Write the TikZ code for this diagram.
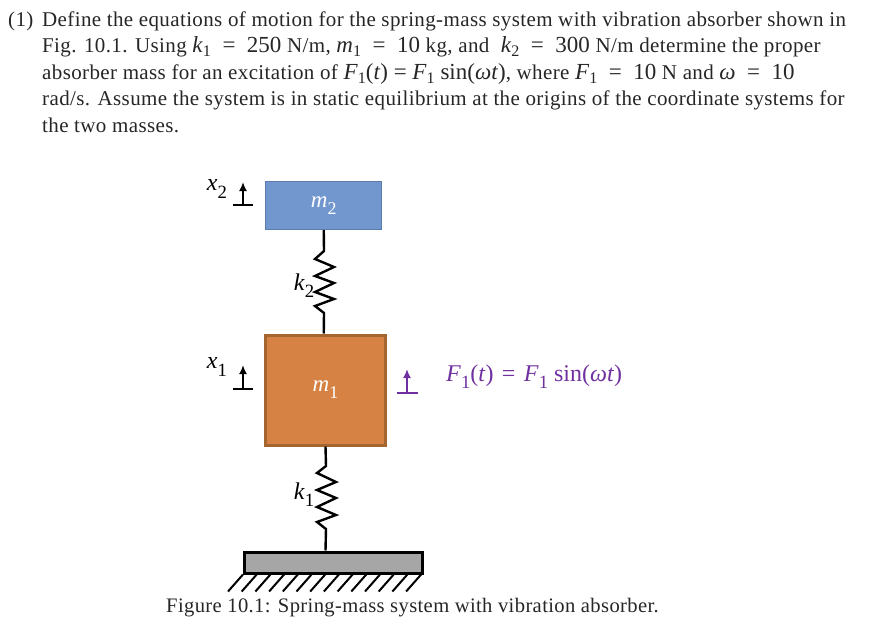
\documentclass[tikz,border=0pt]{standalone}
\usepackage{fontspec}
\setmainfont[LetterSpace=1.8]{Liberation Serif}
\newfontfamily\lblfont{Liberation Serif}
\usetikzlibrary{arrows.meta,calc}
\definecolor{bluefill}{HTML}{7297CF}
\definecolor{blueedge}{HTML}{5A7DAE}
\definecolor{orangefill}{HTML}{D58244}
\definecolor{orangeedge}{HTML}{A5652F}
\definecolor{purp}{HTML}{7030A0}
\definecolor{groundfill}{HTML}{A6A6A6}
\newcommand\vr[1]{\textit{#1}}
\newcommand\sbs[1]{\raisebox{-.3em}{\scalebox{.78}{#1}}}
\newcommand\sbt[1]{\raisebox{-.17em}{\scalebox{.7}{#1}}}
\newcommand\eqs{\hspace{.5em}=\hspace{.5em}}
\newcommand\mth[1]{{\lblfont\fontsize{23}{24}\selectfont #1}}
\tikzset{
  para/.style={anchor=base west,inner sep=0pt,font=\fontsize{21}{24}\selectfont,text=black!85},
  mlabel/.style={inner sep=0pt,font=\lblfont\fontsize{24}{26}\selectfont},
  massblue/.style={draw=blueedge,fill=bluefill,line width=1.2pt,minimum width=116pt,minimum height=48pt,inner sep=0pt,text=white,font=\lblfont\fontsize{23}{26}\selectfont},
  massorange/.style={draw=orangeedge,fill=orangefill,line width=3pt,minimum width=120pt,minimum height=110pt,inner sep=0pt,text=white,font=\lblfont\fontsize{23}{26}\selectfont},
  groundbox/.style={draw=black,fill=groundfill,line width=3pt,minimum width=178pt,minimum height=21pt,inner sep=0pt},
  springline/.style={line width=2.4pt,black,line join=miter},
  baseline bar/.style={line width=2.2pt},
  arrowstem/.style={line width=2.2pt,-{Latex[length=9pt,width=8pt]}},
  hatchline/.style={line width=2pt,black}
}
\begin{document}
\begin{tikzpicture}[x=1pt,y=-1pt]
\useasboundingbox (0,0) rectangle (879,642);
\node[para] (t0) at (8,27) {(1)};
\node[para] (t1) at (42,27) {Define the equations of motion for the spring-mass system with vibration absorber shown in};
\node[para] (t2) at (42,53) {Fig. 10.1. Using \mth{\vr{k}\sbt{1}\eqs{}250} N/m, \mth{\vr{m}\sbt{1}\eqs{}10} kg, and\; \mth{\vr{k}\sbt{2}\eqs{}300} N/m determine the proper};
\node[para] (t3) at (42,80) {absorber mass for an excitation of \mth{\vr{F}\sbt{1}(\vr{t}) = \vr{F}\sbt{1} sin(\vr{ω}\vr{t})}, where \mth{\vr{F}\sbt{1}\eqs{}10} N and \mth{\vr{ω}\eqs{}10}};
\node[para] (t4) at (42,106) {rad/s. Assume the system is in static equilibrium at the origins of the coordinate systems for};
\node[para] (t5) at (42,132) {the two masses.};
\node[para,font=\fontsize{20.6}{24}\selectfont] (cap) at (166,612) {Figure 10.1: Spring-mass system with vibration absorber.};

\node[massblue] (m2) at (323.75,205.5) {\raisebox{-4pt}{\vr{m}\sbs{2}}};
\node[massorange] (m1) at (325.5,390) {\raisebox{-6pt}{\vr{m}\sbs{1}}};
\node[groundbox] (ground) at (333.5,562.5) {};

\draw[springline] (m2.south) -- (324,251) -- (315,259) -- (334,267) -- (315,276) -- (334,283) -- (315,292) -- (334,299) -- (315,306) -- (324,313) -- (m1.north -| m2.south);
\draw[springline] (m1.south) -- (326,466) -- (317,473) -- (336,482) -- (317,490) -- (336,498) -- (317,507) -- (336,515) -- (317,522) -- (326,529) -- (m1.south |- ground.north);

\foreach \i in {0,...,13}
  \draw[hatchline] ($(ground.south west)+(13.7*\i,0)$) -- ++(-15,17);

\node[mlabel] (k2) at (304,286) {\vr{k}\sbs{2}};
\node[mlabel] (k1) at (304,495) {\vr{k}\sbs{1}};
\node[mlabel] (x2) at (217,189) {\vr{x}\sbs{2}};
\node[mlabel] (x1) at (217,367) {\vr{x}\sbs{1}};

\coordinate (x2b) at (243,205);
\draw[baseline bar] ($(x2b)+(-10,0)$) -- ($(x2b)+(10,0)$);
\coordinate (x2t) at (243,182);
\draw[arrowstem] (x2b) -- (x2t);
\coordinate (x1b) at (243,389);
\draw[baseline bar] ($(x1b)+(-10,0)$) -- ($(x1b)+(10,0)$);
\coordinate (x1t) at (243,365);
\draw[arrowstem] (x1b) -- (x1t);
\coordinate (fb) at (407,393);
\draw[baseline bar,purp] ($(fb)+(-10.5,0)$) -- ($(fb)+(10.5,0)$);
\coordinate (ft) at (407,369);
\draw[arrowstem,purp] (fb) -- (ft);
\node[mlabel,anchor=west,text=purp] (F) at (446,377) {\vr{F}\sbs{1}(\vr{t})\hspace{.1em} = \hspace{.1em}\vr{F}\sbs{1} sin(\vr{ω}\vr{t})};
\end{tikzpicture}
\end{document}
